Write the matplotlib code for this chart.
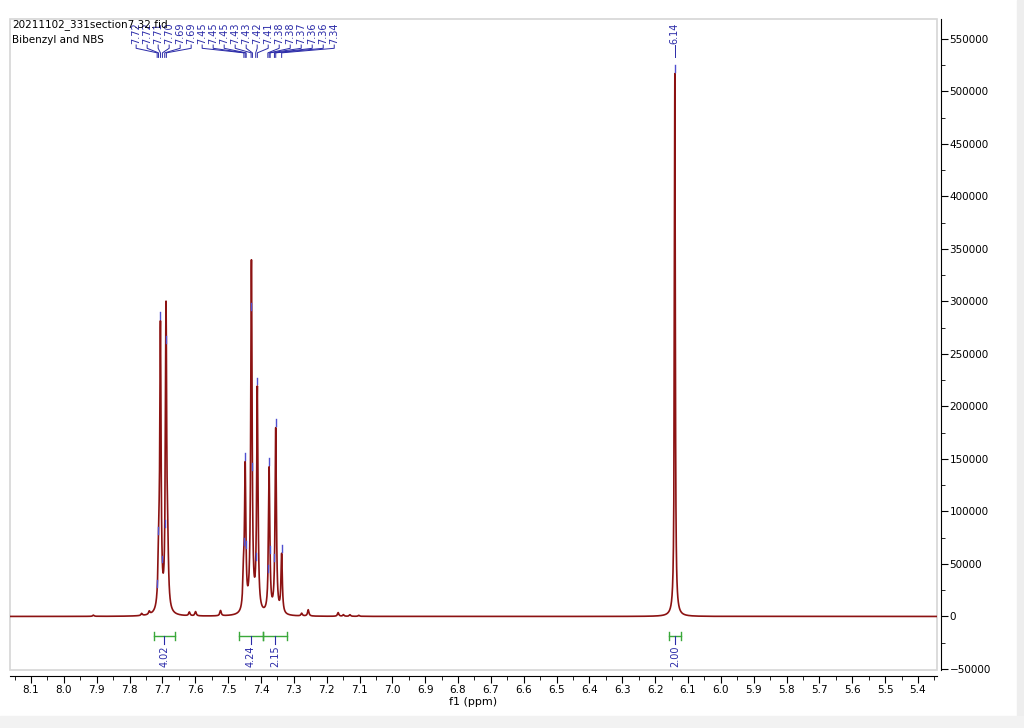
import matplotlib
matplotlib.use('Agg')
import matplotlib.pyplot as plt
import matplotlib.transforms as mtransforms
from matplotlib.patches import Rectangle
from matplotlib.ticker import MultipleLocator, FormatStrFormatter
import numpy as np

# Spectrum lines (ppm, height, half width)
line_ppm = [7.711, 7.706, 7.689, 7.684,
            7.453, 7.448, 7.429, 7.411, 7.375, 7.355, 7.337,
            6.140, 6.140]
line_height = [45000, 265000, 284000, 45000,
               30000, 135000, 333000, 212000, 138000, 176000, 56000,
               505000, 12000]
line_hwhm = [0.0028, 0.0023, 0.0023, 0.0028,
             0.0025, 0.0024, 0.0024, 0.0024, 0.0024, 0.0024, 0.0024,
             0.0016, 0.005]

# small impurity bumps
bump_ppm = [7.91, 7.763, 7.740, 7.618, 7.599, 7.523, 7.276, 7.256, 7.165, 7.149, 7.129, 7.102]
bump_height = [1200, 2000, 3000, 3500, 4000, 5000, 2500, 6000, 3500, 1500, 1500, 1000]

# Peak picks
pick_ppm = [7.716, 7.712, 7.706, 7.700, 7.693, 7.688,
            7.452, 7.448, 7.445, 7.430, 7.426, 7.416, 7.411,
            7.379, 7.375, 7.372, 7.359, 7.355, 7.337, 6.140]
pick_label = ['7.72', '7.72', '7.71', '7.70', '7.69', '7.69',
              '7.45', '7.45', '7.45', '7.43', '7.43', '7.42', '7.41',
              '7.38', '7.38', '7.37', '7.36', '7.36', '7.34', '6.14']
group_sizes = [6, 13, 1]
group_label_start = [7.780, 7.579, 6.140]

# Integrals
integral_from = [7.726, 7.467, 7.394, 6.158]
integral_to = [7.662, 7.394, 7.321, 6.121]
integral_value = ['4.02', '4.24', '2.15', '2.00']

ppm = np.arange(5.30, 8.20, 0.0001)
spec = np.zeros_like(ppm)
for p, h, w in zip(line_ppm, line_height, line_hwhm):
    spec += h / (1 + ((ppm - p) / w) ** 2)
for p, h in zip(bump_ppm, bump_height):
    spec += h / (1 + ((ppm - p) / 0.0025) ** 2)

blue = '#2a2aa8'
green = '#3aa83a'
red = '#8c1212'

fig = plt.figure(figsize=(10.24, 7.28), dpi=100)
ax = fig.add_axes([10 / 1024, 58 / 728, 927 / 1024, 651 / 728])
ax.set_xlim(8.164, 5.342)
ax.set_ylim(-51000, 569000)

ax.plot(ppm, spec, color=red, lw=1.2)

# frame and axes
ax.add_patch(Rectangle((0, 0), 1, 1, transform=ax.transAxes, fill=False,
                       ec='#d6d6d6', lw=1.2, clip_on=False))
ax.spines['left'].set_visible(False)
ax.spines['top'].set_visible(False)
ax.spines['right'].set_position(('outward', 3))
ax.spines['bottom'].set_position(('outward', 4))
ax.spines['right'].set_linewidth(0.8)
ax.spines['bottom'].set_linewidth(0.8)

ax.yaxis.tick_right()
ax.set_yticks(np.arange(-50000, 550001, 50000))
ax.yaxis.set_minor_locator(MultipleLocator(25000))
ax.xaxis.set_major_locator(MultipleLocator(0.1))
ax.xaxis.set_minor_locator(MultipleLocator(0.05))
ax.xaxis.set_major_formatter(FormatStrFormatter('%.1f'))
ax.tick_params(axis='y', which='major', length=5, width=0.8, labelsize=7.5, pad=1)
ax.tick_params(axis='y', which='minor', length=3, width=0.6)
ax.tick_params(axis='x', which='major', length=5, width=0.8, labelsize=7.5, pad=2)
ax.tick_params(axis='x', which='minor', length=3, width=0.6)
ax.set_xlabel('f1 (ppm)', fontsize=8, labelpad=1)

# peak pick labels
trans = mtransforms.blended_transform_factory(ax.transData, ax.transAxes)
spacing = 0.0335
k = 0
for n, start in zip(group_sizes, group_label_start):
    for j in range(n):
        p = pick_ppm[k]
        lx = start - j * spacing
        ax.plot([lx, lx, p, p], [0.960, 0.955, 0.948, 0.941], color=blue,
                lw=0.7, transform=trans, clip_on=False)
        ax.text(lx, 0.962, pick_label[k], rotation=90, ha='center', va='bottom',
                fontsize=7, color=blue, transform=trans)
        val = np.interp(p, ppm, spec)
        ax.plot([p, p], [val + 1500, val + 8000], color='#5050d0', lw=1.0)
        k += 1

# integrals
for a, b, v in zip(integral_from, integral_to, integral_value):
    ax.plot([a, b], [-19000, -19000], color=green, lw=1.0)
    for e in (a, b):
        ax.plot([e, e], [-22800, -15200], color=green, lw=1.0)
    c = (a + b) / 2
    ax.plot([c, c], [-19000, -26500], color=blue, lw=0.8)
    ax.text(c, -28000, v, rotation=90, ha='center', va='top', fontsize=7, color=blue)

fig.text(12 / 1024, 1 - 25 / 728, '20211102_331section7.32.fid', fontsize=7.5, va='center')
fig.text(12 / 1024, 1 - 40 / 728, 'Bibenzyl and NBS', fontsize=7.5, va='center')

# window edges
fig.patches.append(Rectangle((1017 / 1024, 0), 7 / 1024, 1, transform=fig.transFigure,
                             color='#eeeeee', zorder=0))
fig.patches.append(Rectangle((0, 0), 1, 12 / 728, transform=fig.transFigure,
                             color='#f2f2f2', zorder=0))

fig.savefig('out.png', dpi=100)
